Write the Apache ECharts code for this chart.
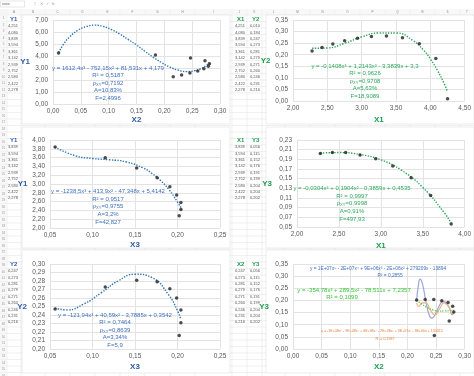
<!DOCTYPE html>
<html>
<head>
<meta charset="utf-8">
<script src="https://cdn.jsdelivr.net/npm/echarts@6/dist/echarts.min.js"></script>
<style>
html, body { margin: 0; padding: 0; background: #fff; }
#main { width: 474px; height: 376px; }
</style>
</head>
<body>
<div id="main"></div>
<script>
// sheet columns
var colY1 = [4.251, 4.080, 3.839, 3.594, 3.361, 3.142, 2.939, 2.752, 2.580, 2.422, 2.278];
var colY2 = [0.010, 0.184, 0.247, 0.273, 0.281, 0.279, 0.271, 0.260, 0.246, 0.231, 0.216];
var colY3 = [0.056, 0.115, 0.152, 0.176, 0.191, 0.199, 0.204, 0.204, 0.202];

// trendlines
var trend1 = [[0.010, 4.30], [0.02, 5.05], [0.03, 5.6], [0.045, 6.15], [0.06, 6.45], [0.075, 6.57], [0.09, 6.47], [0.105, 6.2], [0.12, 5.83], [0.135, 5.38], [0.15, 4.92], [0.165, 4.4], [0.18, 3.9], [0.195, 3.45], [0.21, 3.07], [0.225, 2.82], [0.24, 2.7], [0.255, 2.78], [0.265, 2.92], [0.275, 3.2], [0.281, 3.45]];
var trend2 = [[2.278, 0.228], [2.5, 0.229], [2.75, 0.249], [3.0, 0.277], [3.25, 0.294], [3.5, 0.294], [3.75, 0.261], [3.9, 0.220], [4.0, 0.182], [4.1, 0.134], [4.2, 0.076], [4.251, 0.040]];
var trend3 = [[0.056, 3.84], [0.08, 3.64], [0.10, 3.58], [0.12, 3.55], [0.14, 3.50], [0.16, 3.36], [0.17, 3.24], [0.18, 3.08], [0.19, 2.87], [0.20, 2.59], [0.205, 2.43]];
var trend4 = [[2.278, 0.203], [2.5, 0.204], [2.75, 0.200], [3.0, 0.189], [3.25, 0.167], [3.5, 0.132], [3.75, 0.081], [3.839, 0.058]];
var trend5 = [[0.056, 0.248], [0.07, 0.246], [0.09, 0.253], [0.11, 0.266], [0.13, 0.280], [0.15, 0.288], [0.17, 0.284], [0.19, 0.263], [0.20, 0.245], [0.204, 0.235]];
var trend6a = [[0.216, 0.20], [0.219, 0.26], [0.222, 0.288], [0.226, 0.27], [0.232, 0.20], [0.238, 0.14], [0.243, 0.127], [0.248, 0.14], [0.255, 0.175], [0.262, 0.195], [0.268, 0.19], [0.274, 0.165], [0.278, 0.14], [0.281, 0.152]];
var trend6b = [[0.216, 0.19], [0.22, 0.175], [0.226, 0.19], [0.232, 0.19], [0.24, 0.16], [0.248, 0.14], [0.256, 0.165], [0.264, 0.19], [0.272, 0.175], [0.278, 0.145], [0.281, 0.155]];
var trend6c = [[0.216, 0.20], [0.225, 0.185], [0.235, 0.17], [0.245, 0.16], [0.255, 0.156], [0.265, 0.157], [0.275, 0.158], [0.281, 0.16]];

var BLUE = '#3F6FBF', BLUE_T = '#2E5DA8', GREEN = '#2EAA5C', GREEN_T = '#1E9E50', ORANGE = '#ED7D31';

function fmt(v, d) { return v.toFixed(d).replace('.', ','); }
function pairs(xs, ys) { return xs.map(function (x, i) { return [x, ys[i]]; }); }

var grids = [
  {left: 53, top: 20, width: 167, height: 84},
  {left: 293, top: 20, width: 172, height: 81},
  {left: 50, top: 140, width: 170, height: 88},
  {left: 297, top: 140, width: 168, height: 87},
  {left: 50, top: 264, width: 170, height: 85},
  {left: 293, top: 264, width: 172, height: 85}
];

function valAxis(i, min, max, step, dec, name, col, gap, isY) {
  return {
    type: 'value', gridIndex: i, min: min, max: max, interval: step,
    name: name, nameLocation: 'middle', nameGap: gap, nameRotate: 0,
    nameTextStyle: {color: col, fontSize: 8, fontWeight: 'bold', fontFamily: 'Liberation Sans'},
    axisLine: {show: false}, axisTick: {show: false},
    axisLabel: {fontSize: 6.5, color: '#595959', margin: isY ? 5 : 4, fontFamily: 'Liberation Sans',
      formatter: function (v) { return fmt(v, dec); }},
    splitLine: {show: true, lineStyle: {color: '#E3E3E3', width: 1}}
  };
}

var xAxes = [
  valAxis(0, 0, 0.30, 0.05, 2, 'X2', BLUE_T, 12),
  valAxis(1, 2, 4.5, 0.5, 2, 'X1', GREEN_T, 15),
  valAxis(2, 0.05, 0.25, 0.05, 2, 'X3', BLUE_T, 13),
  valAxis(3, 2, 4, 0.5, 2, 'X1', GREEN_T, 15),
  valAxis(4, 0.05, 0.25, 0.05, 2, 'X3', BLUE_T, 14),
  valAxis(5, 0, 0.30, 0.05, 2, 'X2', GREEN_T, 14)
];
var yAxes = [
  valAxis(0, 0, 7, 1, 2, 'Y1', BLUE_T, 23, true),
  valAxis(1, 0, 0.35, 0.05, 2, 'Y2', GREEN_T, 21, true),
  valAxis(2, 2, 4, 0.2, 2, 'Y1', BLUE_T, 21, true),
  valAxis(3, 0.05, 0.23, 0.02, 2, 'Y3', GREEN_T, 25, true),
  valAxis(4, 0.20, 0.30, 0.01, 2, 'Y2', BLUE_T, 23, true),
  valAxis(5, 0, 0.35, 0.05, 2, 'Y3', GREEN_T, 24, true)
];

function dots(i, data) {
  return {type: 'scatter', xAxisIndex: i, yAxisIndex: i, data: data, symbol: 'circle', symbolSize: 3.5,
    itemStyle: {color: '#1F1F1F'}, z: 5, silent: true};
}
function trend(i, data, col, type, w) {
  return {type: 'line', xAxisIndex: i, yAxisIndex: i, data: data, smooth: true, showSymbol: false,
    lineStyle: {color: col, type: type || 'dotted', width: w || 1.4}, z: 3, silent: true};
}

var series = [
  trend(0, trend1, '#2E75B6'), dots(0, pairs(colY2, colY1)),
  trend(1, trend2, '#2CA55A'), dots(1, pairs(colY1, colY2)),
  trend(2, trend3, '#2E75B6'), dots(2, pairs(colY3, colY1.slice(2))),
  trend(3, trend4, '#2CA55A'), dots(3, pairs(colY1.slice(2), colY3)),
  trend(4, trend5, '#2E75B6'), dots(4, pairs(colY3, colY2.slice(2))),
  trend(5, trend6a, '#9AA6D6', 'solid', 1.2), trend(5, trend6b, '#F4B183', 'solid', 1.2),
  trend(5, trend6c, '#5CCB3A', 'dotted', 1.3), dots(5, pairs(colY2.slice(2), colY3))
];

// spreadsheet chrome
var g = [];
g.push({type: 'rect', shape: {x: 0, y: 0, width: 474, height: 376}, style: {fill: '#fff'}, z: -5, silent: true});
for (var r = 0; r < 56; r++) {
  var yy = 15 + r * 6.5;
  g.push({type: 'line', shape: {x1: 0, y1: yy, x2: 474, y2: yy}, style: {stroke: '#E6E6E6', lineWidth: 0.6}, z: -4, silent: true});
  g.push({type: 'text', x: 3.5, y: yy + 3.3, style: {text: String(r + 1), fontSize: 3, fill: '#999', align: 'center', verticalAlign: 'middle'}, z: -3, silent: true});
}
var colEdges = [7, 21, 45, 70, 95, 120, 145, 170, 195, 232, 247, 262, 285, 310, 335, 360, 385, 410, 435, 460];
var letters = 'ABCDEFGHIJKLMNOPQRST';
colEdges.forEach(function (x, i) {
  g.push({type: 'line', shape: {x1: x, y1: 9, x2: x, y2: 376}, style: {stroke: '#E6E6E6', lineWidth: 0.6}, z: -4, silent: true});
  var nx = i + 1 < colEdges.length ? colEdges[i + 1] : 474;
  g.push({type: 'text', x: (x + nx) / 2, y: 12, style: {text: letters[i], fontSize: 3, fill: '#888', align: 'center', verticalAlign: 'middle'}, z: -3, silent: true});
});
g.push({type: 'rect', shape: {x: 0, y: 9, width: 474, height: 6}, style: {fill: '#F4F4F4', opacity: 0.6}, z: -4, silent: true});
g.push({type: 'rect', shape: {x: 0, y: 9, width: 7, height: 367}, style: {fill: '#F4F4F4', opacity: 0.6}, z: -4, silent: true});
g.push({type: 'rect', shape: {x: 0.5, y: 1, width: 24, height: 6}, style: {fill: '#fff', stroke: '#CFCFCF', lineWidth: 0.5}, z: -3, silent: true});
g.push({type: 'text', x: 2, y: 4, style: {text: 'none', fontSize: 3.5, fill: '#666', verticalAlign: 'middle'}, z: -3, silent: true});
g.push({type: 'text', x: 33, y: 4, style: {text: '\u22EE   \u2715   \u2713   fx', fontSize: 3.5, fill: '#999', verticalAlign: 'middle'}, z: -3, silent: true});

// chart panels
[[22, 15, 208, 109], [266, 15, 208, 109], [22, 127, 208, 121], [266, 127, 208, 121], [22, 250, 208, 123], [266, 250, 208, 123]].forEach(function (b) {
  g.push({type: 'rect', shape: {x: b[0], y: b[1], width: b[2], height: b[3]}, style: {fill: '#fff', stroke: '#DADADA', lineWidth: 0.5}, z: -2, silent: true});
});

// data tables beside the charts
function table(x, y, heads, cols, headCol) {
  heads.forEach(function (h, k) {
    g.push({type: 'text', x: x + k * 15, y: y, style: {text: h, fontSize: 6, fontWeight: 'bold', fill: headCol, verticalAlign: 'middle', fontFamily: 'Liberation Sans'}, z: -1, silent: true});
    cols[k].forEach(function (v, i) {
      g.push({type: 'text', x: x + k * 15 - 2, y: y + 7 + i * 6.4, style: {text: fmt(v, 3), fontSize: 4, fill: '#555', verticalAlign: 'middle', fontFamily: 'Liberation Sans'}, z: -1, silent: true});
    });
  });
}
table(10, 19, ['Y1'], [colY1], BLUE_T);
table(237, 19, ['X1', 'Y2'], [colY1, colY2], GREEN_T);
table(10, 140, ['Y1'], [colY1.slice(2)], BLUE_T);
table(237, 140, ['X1', 'Y3'], [colY1.slice(2), colY3], GREEN_T);
table(10, 264, ['Y2'], [colY2.slice(2)], BLUE_T);
table(237, 264, ['X2', 'Y3'], [colY2.slice(2), colY3], GREEN_T);

// trendline labels
function label(x, y, lines, col, size) {
  lines.forEach(function (t, i) {
    var rich = null, text = t;
    if (t.indexOf('\u03C1') === 0) {
      text = '{a|\u03C1}{s|XY}{a|' + t.slice(1) + '}';
      rich = {a: {fontSize: size || 6, fill: col, fontFamily: 'Liberation Sans'}, s: {fontSize: (size || 6) - 2, fill: col, fontFamily: 'Liberation Sans', padding: [3, 0, 0, 0]}};
    }
    g.push({type: 'text', x: x, y: y + i * 7.6, style: {text: text, rich: rich, fontSize: size || 6, fill: col, align: 'center', verticalAlign: 'middle', fontFamily: 'Liberation Sans'}, z: 10, silent: true});
  });
}
label(108, 68, ['y = 1612,4x\u00B3 - 752,15x\u00B2 + 81,531x + 4,179', 'R\u00B2 = 0,5187', '\u03C1=0,7192', 'A=10,83%', 'F=2,4996'], BLUE);
label(365, 66, ['y = -0,1408x\u00B3 + 1,2143x\u00B2 - 3,3839x + 3,3', 'R\u00B2 = 0,9626', '\u03C1=0,9708', 'A=5,63%', 'F=18,9089'], GREEN);
label(108, 191.5, ['y = -1238,5x\u00B3 + 413,9x\u00B2 - 47,348x + 5,4142', 'R\u00B2 = 0,9517', '\u03C1=0,9755', 'A=3,2%', 'F=42,827'], BLUE);
label(352, 188.5, ['y = -0,0304x\u00B3 + 0,1904x\u00B2 - 0,3859x + 0,4535', 'R\u00B2 = 0,9997', '\u03C1=0,9998', 'A=0,91%', 'F=497,93'], GREEN);
label(115, 315, ['y = -121,94x\u00B3 + 40,59x\u00B2 - 3,7885x + 0,3542', 'R\u00B2 = 0,7464', '\u03C1=0,8639', 'A=3,34%', 'F=5,9'], BLUE);
label(378, 269, ['y = 1E+07x\u2075 - 2E+07x\u2074 + 9E+06x\u00B3 - 2E+06x\u00B2 + 279209x - 13894'], BLUE, 4.8);
label(390, 276, ['R\u00B2 = 0,2855'], BLUE, 4.8);
label(354, 290, ['y = -354,78x\u00B3 + 289,5x\u00B2 - 78,511x + 7,2357'], '#35C435', 6);
label(342, 297.5, ['R\u00B2 = 0,1099'], '#35C435', 6);
label(382, 330.5, ['y = -1E+08x\u2076 - 9E+08x\u2075 + 6E+08x\u2074 - 2E+08x\u00B3 + 3E+07x\u00B2 - 3E+06x + 134015'], ORANGE, 3.6);
label(385, 338.5, ['R\u00B2 = 0,1987'], ORANGE, 3.6);

var option = {
  animation: false,
  backgroundColor: '#fff',
  textStyle: {fontFamily: 'Liberation Sans'},
  grid: grids,
  xAxis: xAxes,
  yAxis: yAxes,
  series: series,
  graphic: {elements: g}
};

var chart = echarts.init(document.getElementById('main'));
chart.setOption(option);
</script>
</body>
</html>
